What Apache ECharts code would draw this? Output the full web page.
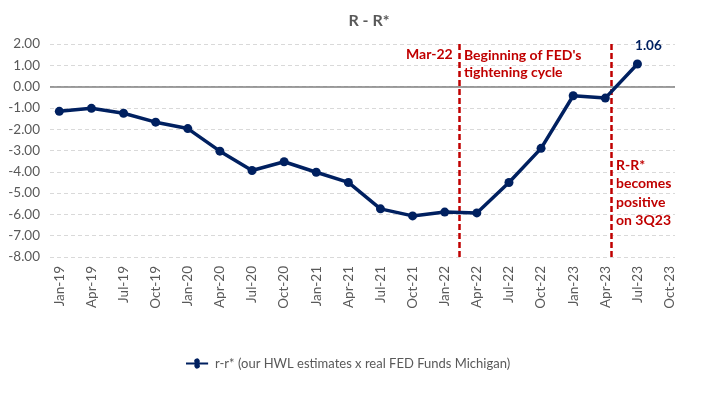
<!DOCTYPE html>
<html>
<head>
<meta charset="utf-8">
<script src="https://cdn.jsdelivr.net/npm/echarts@6/dist/echarts.min.js"></script>
<style>
html,body{margin:0;padding:0;background:#fff;}
#chart{width:705px;height:393px;}
</style>
</head>
<body>
<div id="chart"></div>
<script>
var categories = ['Jan-19','Apr-19','Jul-19','Oct-19','Jan-20','Apr-20','Jul-20','Oct-20','Jan-21','Apr-21','Jul-21','Oct-21','Jan-22','Apr-22','Jul-22','Oct-22','Jan-23','Apr-23','Jul-23','Oct-23'];
var values = [-1.16, -1.02, -1.25, -1.67, -1.97, -3.03, -3.94, -3.53, -4.02, -4.50, -5.74, -6.07, -5.89, -5.93, -4.50, -2.90, -0.43, -0.54, 1.06];
var seriesName = 'r-r* (our HWL estimates x real FED Funds Michigan)';
var yTicks = [-8, -7, -6, -5, -4, -3, -2, -1, 0, 1, 2];
var markerPositions = [12.46, 17.2];   // Mar-22 and 3Q23 reference lines (in quarter index units)
var title = 'R - R*';

var FONT = 'Lato, "Liberation Sans", sans-serif';
var GREY = '#595959';
var RED = '#C00000';
var NAVY = '#002060';

var chart = echarts.init(document.getElementById('chart'), null, {renderer: 'canvas'});

var xIdx = categories.map(function (c, i) { return i; });
var lineData = values.map(function (v, i) { return [i, v]; });

var option = {
  animation: false,
  title: {
    text: title,
    left: 364,
    textAlign: 'center',
    top: 8,
    textStyle: {fontFamily: FONT, fontSize: 16, fontWeight: 'bold', color: GREY}
  },
  grid: {left: 50, right: 30, top: 44, bottom: 136, containLabel: false},
  xAxis: {
    type: 'value',
    min: -0.29,
    max: 19.17,
    axisLine: {show: false},
    axisTick: {show: false},
    splitLine: {show: false},
    axisLabel: {
      customValues: xIdx,
      rotate: 90,
      margin: 9,
      fontFamily: FONT,
      fontSize: 13.5,
      color: GREY,
      formatter: function (v) { return categories[Math.round(v)]; }
    }
  },
  yAxis: {
    type: 'value',
    min: yTicks[0],
    max: yTicks[yTicks.length - 1],
    interval: 1,
    axisLine: {show: false},
    axisTick: {show: false},
    axisLabel: {
      margin: 10,
      fontFamily: FONT,
      fontSize: 13.5,
      color: GREY,
      formatter: function (v) { return v.toFixed(2); }
    },
    splitLine: {show: true, lineStyle: {color: '#d9d9d9', type: [4, 3], width: 1}}
  },
  legend: {
    bottom: 18,
    left: 181,
    itemWidth: 32,
    itemHeight: 10,
    itemGap: 4,
    icon: 'path://M0,3.7 L12.5,3.7 A4,4 0 1 1 19.5,3.7 L32,3.7 L32,6.3 L19.5,6.3 A4,4 0 1 1 12.5,6.3 L0,6.3 Z',
    textStyle: {fontFamily: FONT, fontSize: 13, color: GREY, padding: [0, 0, 0, -3]},
    data: [{name: seriesName, itemStyle: {color: NAVY}}]
  },
  series: [{
    name: seriesName,
    type: 'line',
    data: lineData,
    clip: false,
    symbol: 'circle',
    symbolSize: 9,
    lineStyle: {color: NAVY, width: 3.5},
    itemStyle: {color: NAVY},
    z: 5,
    label: {
      show: true,
      fontFamily: FONT,
      fontSize: 13.5,
      fontWeight: 'bold',
      color: NAVY,
      position: 'top',
      offset: [11, -2],
      formatter: function (p) { return p.dataIndex === values.length - 1 ? p.value[1].toFixed(2) : ''; }
    },
    markLine: {
      silent: true,
      symbol: 'none',
      animation: false,
      label: {show: false},
      data: [
        {yAxis: 0, lineStyle: {color: '#7f7f7f', type: 'solid', width: 1.5}},
        {xAxis: markerPositions[0], lineStyle: {color: RED, type: [6, 3], width: 2.5}},
        {xAxis: markerPositions[1], lineStyle: {color: RED, type: [6, 3], width: 2.5}}
      ]
    }
  }],
  graphic: [
    {type: 'text', left: 406, top: 47, style: {text: 'Mar-22', fontFamily: FONT, fontSize: 14, fontWeight: 'bold', fill: RED}},
    {type: 'text', left: 464, top: 47, style: {text: "Beginning of FED's\ntightening cycle", lineHeight: 17, fontFamily: FONT, fontSize: 14, fontWeight: 'bold', fill: RED}},
    {type: 'text', left: 616, top: 156, style: {text: 'R-R*\nbecomes\npositive\non 3Q23', lineHeight: 18.5, fontFamily: FONT, fontSize: 14, fontWeight: 'bold', fill: RED}}
  ]
};
chart.setOption(option);
</script>
</body>
</html>
